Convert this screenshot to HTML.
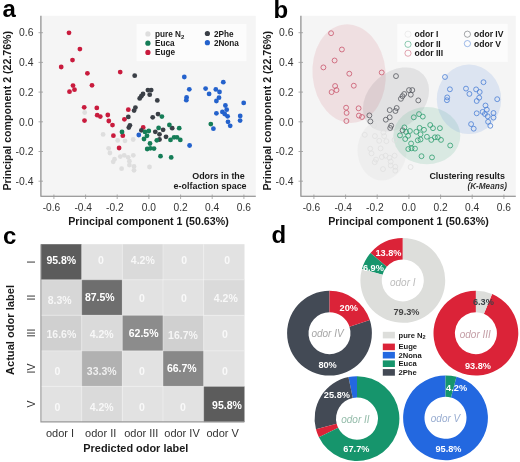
<!DOCTYPE html>
<html><head><meta charset="utf-8"><title>Figure</title>
<style>html,body{margin:0;padding:0;background:#fff;}svg{display:block;}</style>
</head><body>
<svg width="520" height="462" viewBox="0 0 520 462" font-family='"Liberation Sans", "DejaVu Sans", sans-serif'>
<rect width="520" height="462" fill="#ffffff"/>
<rect x="41" y="15.8" width="214.8" height="180.7" fill="#f5f5f5"/>
<circle cx="84.7" cy="112.5" r="2.4" fill="#dedede"/>
<circle cx="103.1" cy="134.4" r="2.4" fill="#dedede"/>
<circle cx="117.7" cy="140.4" r="2.4" fill="#dedede"/>
<circle cx="125.0" cy="140.8" r="2.4" fill="#dedede"/>
<circle cx="133.2" cy="139.5" r="2.4" fill="#dedede"/>
<circle cx="108.6" cy="148.3" r="2.4" fill="#dedede"/>
<circle cx="109.9" cy="153.0" r="2.4" fill="#dedede"/>
<circle cx="114.5" cy="159.2" r="2.4" fill="#dedede"/>
<circle cx="113.2" cy="161.8" r="2.4" fill="#dedede"/>
<circle cx="120.3" cy="156.6" r="2.4" fill="#dedede"/>
<circle cx="124.2" cy="155.3" r="2.4" fill="#dedede"/>
<circle cx="128.1" cy="157.3" r="2.4" fill="#dedede"/>
<circle cx="133.3" cy="155.3" r="2.4" fill="#dedede"/>
<circle cx="129.4" cy="161.2" r="2.4" fill="#dedede"/>
<circle cx="129.4" cy="165.1" r="2.4" fill="#dedede"/>
<circle cx="121.6" cy="168.7" r="2.4" fill="#dedede"/>
<circle cx="134.0" cy="166.4" r="2.4" fill="#dedede"/>
<circle cx="134.0" cy="170.3" r="2.4" fill="#dedede"/>
<circle cx="149.5" cy="167.0" r="2.4" fill="#dedede"/>
<circle cx="69.0" cy="32.8" r="2.4" fill="#c91b3d"/>
<circle cx="79.9" cy="49.1" r="2.4" fill="#c91b3d"/>
<circle cx="72.5" cy="60.1" r="2.4" fill="#c91b3d"/>
<circle cx="61.2" cy="67.0" r="2.4" fill="#c91b3d"/>
<circle cx="87.4" cy="73.3" r="2.4" fill="#c91b3d"/>
<circle cx="120.2" cy="72.1" r="2.4" fill="#c91b3d"/>
<circle cx="73.0" cy="85.6" r="2.4" fill="#c91b3d"/>
<circle cx="92.0" cy="85.3" r="2.4" fill="#c91b3d"/>
<circle cx="74.5" cy="89.7" r="2.4" fill="#c91b3d"/>
<circle cx="69.5" cy="91.7" r="2.4" fill="#c91b3d"/>
<circle cx="84.2" cy="107.3" r="2.4" fill="#c91b3d"/>
<circle cx="96.8" cy="107.9" r="2.4" fill="#c91b3d"/>
<circle cx="97.2" cy="115.2" r="2.4" fill="#c91b3d"/>
<circle cx="100.3" cy="116.6" r="2.4" fill="#c91b3d"/>
<circle cx="107.8" cy="115.0" r="2.4" fill="#c91b3d"/>
<circle cx="84.5" cy="120.6" r="2.4" fill="#c91b3d"/>
<circle cx="108.8" cy="121.0" r="2.4" fill="#c91b3d"/>
<circle cx="112.5" cy="125.1" r="2.4" fill="#c91b3d"/>
<circle cx="128.3" cy="109.7" r="2.4" fill="#c91b3d"/>
<circle cx="124.4" cy="119.3" r="2.4" fill="#c91b3d"/>
<circle cx="143.2" cy="127.4" r="2.4" fill="#c91b3d"/>
<circle cx="122.8" cy="135.7" r="2.4" fill="#c91b3d"/>
<circle cx="113.4" cy="135.7" r="2.4" fill="#c91b3d"/>
<circle cx="119.1" cy="148.0" r="2.4" fill="#c91b3d"/>
<circle cx="134.7" cy="75.7" r="2.4" fill="#3a3f46"/>
<circle cx="147.9" cy="90.1" r="2.4" fill="#3a3f46"/>
<circle cx="151.2" cy="90.1" r="2.4" fill="#3a3f46"/>
<circle cx="149.7" cy="94.7" r="2.4" fill="#3a3f46"/>
<circle cx="143.0" cy="94.0" r="2.4" fill="#3a3f46"/>
<circle cx="141.3" cy="96.2" r="2.4" fill="#3a3f46"/>
<circle cx="139.7" cy="98.4" r="2.4" fill="#3a3f46"/>
<circle cx="157.3" cy="100.4" r="2.4" fill="#3a3f46"/>
<circle cx="135.4" cy="107.6" r="2.4" fill="#3a3f46"/>
<circle cx="134.1" cy="110.6" r="2.4" fill="#3a3f46"/>
<circle cx="128.3" cy="116.9" r="2.4" fill="#3a3f46"/>
<circle cx="152.7" cy="117.3" r="2.4" fill="#3a3f46"/>
<circle cx="158.0" cy="114.1" r="2.4" fill="#3a3f46"/>
<circle cx="129.9" cy="125.3" r="2.4" fill="#3a3f46"/>
<circle cx="128.8" cy="127.6" r="2.4" fill="#3a3f46"/>
<circle cx="141.4" cy="130.3" r="2.4" fill="#3a3f46"/>
<circle cx="172.2" cy="128.2" r="2.4" fill="#3a3f46"/>
<circle cx="163.1" cy="129.8" r="2.4" fill="#3a3f46"/>
<circle cx="155.3" cy="131.8" r="2.4" fill="#3a3f46"/>
<circle cx="159.5" cy="134.3" r="2.4" fill="#3a3f46"/>
<circle cx="166.0" cy="136.8" r="2.4" fill="#3a3f46"/>
<circle cx="159.5" cy="139.5" r="2.4" fill="#3a3f46"/>
<circle cx="161.9" cy="116.6" r="2.4" fill="#157d57"/>
<circle cx="169.4" cy="125.0" r="2.4" fill="#157d57"/>
<circle cx="158.6" cy="127.9" r="2.4" fill="#157d57"/>
<circle cx="179.2" cy="128.2" r="2.4" fill="#157d57"/>
<circle cx="122.0" cy="132.0" r="2.4" fill="#157d57"/>
<circle cx="145.0" cy="131.9" r="2.4" fill="#157d57"/>
<circle cx="148.8" cy="131.0" r="2.4" fill="#157d57"/>
<circle cx="147.0" cy="135.8" r="2.4" fill="#157d57"/>
<circle cx="144.0" cy="139.0" r="2.4" fill="#157d57"/>
<circle cx="170.5" cy="139.9" r="2.4" fill="#157d57"/>
<circle cx="174.1" cy="137.3" r="2.4" fill="#157d57"/>
<circle cx="177.0" cy="137.3" r="2.4" fill="#157d57"/>
<circle cx="180.3" cy="139.9" r="2.4" fill="#157d57"/>
<circle cx="156.8" cy="140.3" r="2.4" fill="#157d57"/>
<circle cx="150.0" cy="143.5" r="2.4" fill="#157d57"/>
<circle cx="147.2" cy="149.0" r="2.4" fill="#157d57"/>
<circle cx="150.4" cy="148.3" r="2.4" fill="#157d57"/>
<circle cx="154.0" cy="148.6" r="2.4" fill="#157d57"/>
<circle cx="160.5" cy="156.2" r="2.4" fill="#157d57"/>
<circle cx="171.2" cy="157.4" r="2.4" fill="#157d57"/>
<circle cx="210.8" cy="124.1" r="2.4" fill="#157d57"/>
<circle cx="184.3" cy="77.0" r="2.4" fill="#2462cc"/>
<circle cx="189.3" cy="89.3" r="2.4" fill="#2462cc"/>
<circle cx="186.6" cy="97.4" r="2.4" fill="#2462cc"/>
<circle cx="186.3" cy="100.2" r="2.4" fill="#2462cc"/>
<circle cx="223.3" cy="82.2" r="2.4" fill="#2462cc"/>
<circle cx="205.6" cy="88.6" r="2.4" fill="#2462cc"/>
<circle cx="209.1" cy="93.9" r="2.4" fill="#2462cc"/>
<circle cx="215.8" cy="89.4" r="2.4" fill="#2462cc"/>
<circle cx="219.5" cy="92.0" r="2.4" fill="#2462cc"/>
<circle cx="219.0" cy="97.7" r="2.4" fill="#2462cc"/>
<circle cx="216.4" cy="101.0" r="2.4" fill="#2462cc"/>
<circle cx="243.7" cy="102.9" r="2.4" fill="#2462cc"/>
<circle cx="225.4" cy="105.5" r="2.4" fill="#2462cc"/>
<circle cx="226.7" cy="109.7" r="2.4" fill="#2462cc"/>
<circle cx="216.4" cy="113.3" r="2.4" fill="#2462cc"/>
<circle cx="222.4" cy="111.9" r="2.4" fill="#2462cc"/>
<circle cx="224.7" cy="114.0" r="2.4" fill="#2462cc"/>
<circle cx="227.6" cy="116.3" r="2.4" fill="#2462cc"/>
<circle cx="240.2" cy="115.9" r="2.4" fill="#2462cc"/>
<circle cx="240.1" cy="120.6" r="2.4" fill="#2462cc"/>
<circle cx="228.0" cy="121.8" r="2.4" fill="#2462cc"/>
<circle cx="230.2" cy="125.8" r="2.4" fill="#2462cc"/>
<circle cx="213.4" cy="128.7" r="2.4" fill="#2462cc"/>
<circle cx="189.6" cy="145.5" r="2.4" fill="#2462cc"/>
<circle cx="138.8" cy="135.0" r="2.4" fill="#2462cc"/>
<rect x="136.5" y="24" width="110" height="37.2" fill="#fdfdfd" opacity="0.9"/>
<circle cx="147.9" cy="33.9" r="2.6" fill="#dedede"/>
<text x="155.0" y="36.9" font-size="8.2" font-weight="bold" font-style="normal" fill="#1a1a1a" text-anchor="start" >pure N<tspan font-size="6" dy="2">2</tspan></text>
<circle cx="147.9" cy="43.2" r="2.6" fill="#157d57"/>
<text x="155.0" y="46.2" font-size="8.2" font-weight="bold" font-style="normal" fill="#1a1a1a" text-anchor="start" >Euca</text>
<circle cx="147.9" cy="52.4" r="2.6" fill="#c91b3d"/>
<text x="155.0" y="55.4" font-size="8.2" font-weight="bold" font-style="normal" fill="#1a1a1a" text-anchor="start" >Euge</text>
<circle cx="207.4" cy="33.5" r="2.6" fill="#3a3f46"/>
<text x="213.9" y="36.5" font-size="8.2" font-weight="bold" font-style="normal" fill="#1a1a1a" text-anchor="start" >2Phe</text>
<circle cx="207.4" cy="42.7" r="2.6" fill="#2462cc"/>
<text x="213.9" y="45.7" font-size="8.2" font-weight="bold" font-style="normal" fill="#1a1a1a" text-anchor="start" >2Nona</text>
<text x="244.8" y="179.2" font-size="9.1" font-weight="bold" font-style="normal" fill="#1a1a1a" text-anchor="end" textLength="52.6" lengthAdjust="spacingAndGlyphs">Odors in the</text>
<text x="246.6" y="189.2" font-size="9.1" font-weight="bold" font-style="normal" fill="#1a1a1a" text-anchor="end" textLength="73" lengthAdjust="spacingAndGlyphs">e-olfaction space</text>
<path d="M40.9,15.8 V196.3 H255.8" fill="none" stroke="#808080" stroke-width="1.1"/>
<line x1="53.9" y1="194.5" x2="53.9" y2="199.0" stroke="#9a9a9a" stroke-width="0.8"/>
<text x="51.5" y="210.7" font-size="10.2" font-weight="normal" font-style="normal" fill="#333" text-anchor="middle" >-0.6</text>
<line x1="85.6" y1="194.5" x2="85.6" y2="199.0" stroke="#9a9a9a" stroke-width="0.8"/>
<text x="83.2" y="210.7" font-size="10.2" font-weight="normal" font-style="normal" fill="#333" text-anchor="middle" >-0.4</text>
<line x1="117.2" y1="194.5" x2="117.2" y2="199.0" stroke="#9a9a9a" stroke-width="0.8"/>
<text x="114.8" y="210.7" font-size="10.2" font-weight="normal" font-style="normal" fill="#333" text-anchor="middle" >-0.2</text>
<line x1="148.9" y1="194.5" x2="148.9" y2="199.0" stroke="#9a9a9a" stroke-width="0.8"/>
<text x="148.9" y="210.7" font-size="10.2" font-weight="normal" font-style="normal" fill="#333" text-anchor="middle" >0.0</text>
<line x1="180.6" y1="194.5" x2="180.6" y2="199.0" stroke="#9a9a9a" stroke-width="0.8"/>
<text x="180.6" y="210.7" font-size="10.2" font-weight="normal" font-style="normal" fill="#333" text-anchor="middle" >0.2</text>
<line x1="212.2" y1="194.5" x2="212.2" y2="199.0" stroke="#9a9a9a" stroke-width="0.8"/>
<text x="212.2" y="210.7" font-size="10.2" font-weight="normal" font-style="normal" fill="#333" text-anchor="middle" >0.4</text>
<line x1="243.9" y1="194.5" x2="243.9" y2="199.0" stroke="#9a9a9a" stroke-width="0.8"/>
<text x="243.9" y="210.7" font-size="10.2" font-weight="normal" font-style="normal" fill="#333" text-anchor="middle" >0.6</text>
<line x1="38.5" y1="32.7" x2="43" y2="32.7" stroke="#9a9a9a" stroke-width="0.8"/>
<text x="33.5" y="36.4" font-size="10.4" font-weight="normal" font-style="normal" fill="#333" text-anchor="end" >0.6</text>
<line x1="38.5" y1="62.4" x2="43" y2="62.4" stroke="#9a9a9a" stroke-width="0.8"/>
<text x="33.5" y="66.1" font-size="10.4" font-weight="normal" font-style="normal" fill="#333" text-anchor="end" >0.4</text>
<line x1="38.5" y1="92.1" x2="43" y2="92.1" stroke="#9a9a9a" stroke-width="0.8"/>
<text x="33.5" y="95.8" font-size="10.4" font-weight="normal" font-style="normal" fill="#333" text-anchor="end" >0.2</text>
<line x1="38.5" y1="121.8" x2="43" y2="121.8" stroke="#9a9a9a" stroke-width="0.8"/>
<text x="33.5" y="125.5" font-size="10.4" font-weight="normal" font-style="normal" fill="#333" text-anchor="end" >0.0</text>
<line x1="38.5" y1="151.5" x2="43" y2="151.5" stroke="#9a9a9a" stroke-width="0.8"/>
<text x="33.5" y="155.2" font-size="10.4" font-weight="normal" font-style="normal" fill="#333" text-anchor="end" >-0.2</text>
<line x1="38.5" y1="181.2" x2="43" y2="181.2" stroke="#9a9a9a" stroke-width="0.8"/>
<text x="33.5" y="184.9" font-size="10.4" font-weight="normal" font-style="normal" fill="#333" text-anchor="end" >-0.4</text>
<text x="148.5" y="225" font-size="10.2" font-weight="bold" font-style="normal" fill="#1a1a1a" text-anchor="middle" textLength="160.5" lengthAdjust="spacingAndGlyphs">Principal component 1 (50.63%)</text>
<text transform="translate(11.3,110.7) rotate(-90)" font-size="10.2" font-weight="bold" fill="#1a1a1a" text-anchor="middle" textLength="159.5" lengthAdjust="spacingAndGlyphs">Principal component 2 (22.76%)</text>
<text x="2.5" y="16.5" font-size="24" font-weight="bold" font-style="normal" fill="#000" text-anchor="start" >a</text>
<rect x="301" y="15.8" width="214.8" height="180.7" fill="#f5f5f5"/>
<ellipse cx="349.1" cy="73.6" rx="36.6" ry="49.4" fill="rgba(218,125,140,0.18)" transform="rotate(-5 349.1 73.6)"/>
<ellipse cx="396.0" cy="99.5" rx="37" ry="27.5" fill="rgba(90,90,95,0.12)" transform="rotate(-42 396.0 99.5)"/>
<ellipse cx="382.0" cy="150.5" rx="24.5" ry="30" fill="rgba(228,228,228,0.42)" transform="rotate(0 382.0 150.5)"/>
<ellipse cx="426.8" cy="135.7" rx="33.5" ry="28.6" fill="rgba(120,190,160,0.22)" transform="rotate(0 426.8 135.7)"/>
<ellipse cx="469.0" cy="99.3" rx="32.2" ry="34.8" fill="rgba(120,160,225,0.20)" transform="rotate(0 469.0 99.3)"/>
<circle cx="374.1" cy="125.5" r="2.45" fill="none" stroke="#dfdfdf" stroke-width="0.8"/>
<circle cx="384.2" cy="136.1" r="2.45" fill="none" stroke="#dfdfdf" stroke-width="0.8"/>
<circle cx="374.9" cy="136.1" r="2.45" fill="none" stroke="#dfdfdf" stroke-width="0.8"/>
<circle cx="380.6" cy="148.4" r="2.45" fill="none" stroke="#dfdfdf" stroke-width="0.8"/>
<circle cx="383.4" cy="132.4" r="2.45" fill="none" stroke="#dfdfdf" stroke-width="0.8"/>
<circle cx="364.8" cy="134.8" r="2.45" fill="none" stroke="#dfdfdf" stroke-width="0.8"/>
<circle cx="379.2" cy="140.8" r="2.45" fill="none" stroke="#dfdfdf" stroke-width="0.8"/>
<circle cx="386.4" cy="141.2" r="2.45" fill="none" stroke="#dfdfdf" stroke-width="0.8"/>
<circle cx="394.5" cy="139.9" r="2.45" fill="none" stroke="#dfdfdf" stroke-width="0.8"/>
<circle cx="370.2" cy="148.7" r="2.45" fill="none" stroke="#dfdfdf" stroke-width="0.8"/>
<circle cx="371.5" cy="153.4" r="2.45" fill="none" stroke="#dfdfdf" stroke-width="0.8"/>
<circle cx="376.0" cy="159.6" r="2.45" fill="none" stroke="#dfdfdf" stroke-width="0.8"/>
<circle cx="374.7" cy="162.2" r="2.45" fill="none" stroke="#dfdfdf" stroke-width="0.8"/>
<circle cx="381.8" cy="157.0" r="2.45" fill="none" stroke="#dfdfdf" stroke-width="0.8"/>
<circle cx="385.6" cy="155.7" r="2.45" fill="none" stroke="#dfdfdf" stroke-width="0.8"/>
<circle cx="389.5" cy="157.7" r="2.45" fill="none" stroke="#dfdfdf" stroke-width="0.8"/>
<circle cx="394.6" cy="155.7" r="2.45" fill="none" stroke="#dfdfdf" stroke-width="0.8"/>
<circle cx="390.7" cy="161.6" r="2.45" fill="none" stroke="#dfdfdf" stroke-width="0.8"/>
<circle cx="390.7" cy="165.5" r="2.45" fill="none" stroke="#dfdfdf" stroke-width="0.8"/>
<circle cx="383.0" cy="169.1" r="2.45" fill="none" stroke="#dfdfdf" stroke-width="0.8"/>
<circle cx="395.3" cy="166.8" r="2.45" fill="none" stroke="#dfdfdf" stroke-width="0.8"/>
<circle cx="395.3" cy="170.7" r="2.45" fill="none" stroke="#dfdfdf" stroke-width="0.8"/>
<circle cx="410.6" cy="167.0" r="2.45" fill="none" stroke="#dfdfdf" stroke-width="0.8"/>
<circle cx="331.1" cy="33.2" r="2.45" fill="none" stroke="#c9566c" stroke-width="0.8"/>
<circle cx="341.9" cy="49.5" r="2.45" fill="none" stroke="#c9566c" stroke-width="0.8"/>
<circle cx="334.6" cy="60.5" r="2.45" fill="none" stroke="#c9566c" stroke-width="0.8"/>
<circle cx="323.4" cy="67.4" r="2.45" fill="none" stroke="#c9566c" stroke-width="0.8"/>
<circle cx="349.3" cy="73.7" r="2.45" fill="none" stroke="#c9566c" stroke-width="0.8"/>
<circle cx="381.7" cy="72.5" r="2.45" fill="none" stroke="#c9566c" stroke-width="0.8"/>
<circle cx="335.1" cy="86.0" r="2.45" fill="none" stroke="#c9566c" stroke-width="0.8"/>
<circle cx="353.8" cy="85.7" r="2.45" fill="none" stroke="#c9566c" stroke-width="0.8"/>
<circle cx="336.5" cy="90.1" r="2.45" fill="none" stroke="#c9566c" stroke-width="0.8"/>
<circle cx="331.6" cy="92.1" r="2.45" fill="none" stroke="#c9566c" stroke-width="0.8"/>
<circle cx="346.1" cy="107.7" r="2.45" fill="none" stroke="#c9566c" stroke-width="0.8"/>
<circle cx="358.6" cy="108.3" r="2.45" fill="none" stroke="#c9566c" stroke-width="0.8"/>
<circle cx="358.9" cy="115.6" r="2.45" fill="none" stroke="#c9566c" stroke-width="0.8"/>
<circle cx="362.0" cy="117.0" r="2.45" fill="none" stroke="#c9566c" stroke-width="0.8"/>
<circle cx="346.4" cy="121.0" r="2.45" fill="none" stroke="#c9566c" stroke-width="0.8"/>
<circle cx="346.6" cy="112.9" r="2.45" fill="none" stroke="#c9566c" stroke-width="0.8"/>
<circle cx="369.4" cy="115.4" r="2.45" fill="none" stroke="#55585e" stroke-width="0.8"/>
<circle cx="370.4" cy="121.4" r="2.45" fill="none" stroke="#55585e" stroke-width="0.8"/>
<circle cx="389.7" cy="110.1" r="2.45" fill="none" stroke="#55585e" stroke-width="0.8"/>
<circle cx="385.8" cy="119.7" r="2.45" fill="none" stroke="#55585e" stroke-width="0.8"/>
<circle cx="396.0" cy="76.1" r="2.45" fill="none" stroke="#55585e" stroke-width="0.8"/>
<circle cx="409.0" cy="90.1" r="2.45" fill="none" stroke="#55585e" stroke-width="0.8"/>
<circle cx="412.3" cy="90.1" r="2.45" fill="none" stroke="#55585e" stroke-width="0.8"/>
<circle cx="410.8" cy="94.7" r="2.45" fill="none" stroke="#55585e" stroke-width="0.8"/>
<circle cx="404.2" cy="94.0" r="2.45" fill="none" stroke="#55585e" stroke-width="0.8"/>
<circle cx="402.5" cy="96.2" r="2.45" fill="none" stroke="#55585e" stroke-width="0.8"/>
<circle cx="400.9" cy="98.8" r="2.45" fill="none" stroke="#55585e" stroke-width="0.8"/>
<circle cx="418.3" cy="100.4" r="2.45" fill="none" stroke="#55585e" stroke-width="0.8"/>
<circle cx="396.7" cy="108.0" r="2.45" fill="none" stroke="#55585e" stroke-width="0.8"/>
<circle cx="395.4" cy="111.0" r="2.45" fill="none" stroke="#55585e" stroke-width="0.8"/>
<circle cx="389.7" cy="117.3" r="2.45" fill="none" stroke="#55585e" stroke-width="0.8"/>
<circle cx="391.2" cy="125.7" r="2.45" fill="none" stroke="#55585e" stroke-width="0.8"/>
<circle cx="390.2" cy="128.0" r="2.45" fill="none" stroke="#55585e" stroke-width="0.8"/>
<circle cx="402.6" cy="130.3" r="2.45" fill="none" stroke="#55585e" stroke-width="0.8"/>
<circle cx="404.4" cy="127.4" r="2.45" fill="none" stroke="#2e9e70" stroke-width="0.8"/>
<circle cx="413.8" cy="117.3" r="2.45" fill="none" stroke="#2e9e70" stroke-width="0.8"/>
<circle cx="419.0" cy="114.1" r="2.45" fill="none" stroke="#2e9e70" stroke-width="0.8"/>
<circle cx="433.0" cy="128.2" r="2.45" fill="none" stroke="#2e9e70" stroke-width="0.8"/>
<circle cx="424.0" cy="129.8" r="2.45" fill="none" stroke="#2e9e70" stroke-width="0.8"/>
<circle cx="416.3" cy="131.8" r="2.45" fill="none" stroke="#2e9e70" stroke-width="0.8"/>
<circle cx="420.5" cy="134.3" r="2.45" fill="none" stroke="#2e9e70" stroke-width="0.8"/>
<circle cx="426.9" cy="136.8" r="2.45" fill="none" stroke="#2e9e70" stroke-width="0.8"/>
<circle cx="420.5" cy="139.5" r="2.45" fill="none" stroke="#2e9e70" stroke-width="0.8"/>
<circle cx="422.8" cy="116.6" r="2.45" fill="none" stroke="#2e9e70" stroke-width="0.8"/>
<circle cx="430.2" cy="125.0" r="2.45" fill="none" stroke="#2e9e70" stroke-width="0.8"/>
<circle cx="419.6" cy="127.9" r="2.45" fill="none" stroke="#2e9e70" stroke-width="0.8"/>
<circle cx="439.9" cy="128.2" r="2.45" fill="none" stroke="#2e9e70" stroke-width="0.8"/>
<circle cx="406.1" cy="131.9" r="2.45" fill="none" stroke="#2e9e70" stroke-width="0.8"/>
<circle cx="409.9" cy="131.0" r="2.45" fill="none" stroke="#2e9e70" stroke-width="0.8"/>
<circle cx="408.1" cy="135.8" r="2.45" fill="none" stroke="#2e9e70" stroke-width="0.8"/>
<circle cx="405.2" cy="139.0" r="2.45" fill="none" stroke="#2e9e70" stroke-width="0.8"/>
<circle cx="431.3" cy="139.9" r="2.45" fill="none" stroke="#2e9e70" stroke-width="0.8"/>
<circle cx="434.9" cy="137.3" r="2.45" fill="none" stroke="#2e9e70" stroke-width="0.8"/>
<circle cx="437.8" cy="137.3" r="2.45" fill="none" stroke="#2e9e70" stroke-width="0.8"/>
<circle cx="441.0" cy="139.9" r="2.45" fill="none" stroke="#2e9e70" stroke-width="0.8"/>
<circle cx="417.8" cy="140.3" r="2.45" fill="none" stroke="#2e9e70" stroke-width="0.8"/>
<circle cx="411.1" cy="143.5" r="2.45" fill="none" stroke="#2e9e70" stroke-width="0.8"/>
<circle cx="408.3" cy="149.0" r="2.45" fill="none" stroke="#2e9e70" stroke-width="0.8"/>
<circle cx="411.5" cy="148.3" r="2.45" fill="none" stroke="#2e9e70" stroke-width="0.8"/>
<circle cx="415.0" cy="148.6" r="2.45" fill="none" stroke="#2e9e70" stroke-width="0.8"/>
<circle cx="421.5" cy="156.2" r="2.45" fill="none" stroke="#2e9e70" stroke-width="0.8"/>
<circle cx="432.0" cy="157.4" r="2.45" fill="none" stroke="#2e9e70" stroke-width="0.8"/>
<circle cx="450.2" cy="145.5" r="2.45" fill="none" stroke="#2e9e70" stroke-width="0.8"/>
<circle cx="400.0" cy="135.4" r="2.45" fill="none" stroke="#2e9e70" stroke-width="0.8"/>
<circle cx="471.1" cy="124.1" r="2.45" fill="none" stroke="#4a7fd6" stroke-width="0.8"/>
<circle cx="445.0" cy="77.0" r="2.45" fill="none" stroke="#4a7fd6" stroke-width="0.8"/>
<circle cx="449.9" cy="89.3" r="2.45" fill="none" stroke="#4a7fd6" stroke-width="0.8"/>
<circle cx="447.2" cy="97.4" r="2.45" fill="none" stroke="#4a7fd6" stroke-width="0.8"/>
<circle cx="446.9" cy="100.2" r="2.45" fill="none" stroke="#4a7fd6" stroke-width="0.8"/>
<circle cx="483.5" cy="82.2" r="2.45" fill="none" stroke="#4a7fd6" stroke-width="0.8"/>
<circle cx="466.0" cy="88.6" r="2.45" fill="none" stroke="#4a7fd6" stroke-width="0.8"/>
<circle cx="469.4" cy="93.9" r="2.45" fill="none" stroke="#4a7fd6" stroke-width="0.8"/>
<circle cx="476.1" cy="89.4" r="2.45" fill="none" stroke="#4a7fd6" stroke-width="0.8"/>
<circle cx="479.7" cy="92.0" r="2.45" fill="none" stroke="#4a7fd6" stroke-width="0.8"/>
<circle cx="479.2" cy="97.7" r="2.45" fill="none" stroke="#4a7fd6" stroke-width="0.8"/>
<circle cx="476.7" cy="101.0" r="2.45" fill="none" stroke="#4a7fd6" stroke-width="0.8"/>
<circle cx="497.2" cy="99.2" r="2.45" fill="none" stroke="#4a7fd6" stroke-width="0.8"/>
<circle cx="485.5" cy="105.5" r="2.45" fill="none" stroke="#4a7fd6" stroke-width="0.8"/>
<circle cx="486.8" cy="109.7" r="2.45" fill="none" stroke="#4a7fd6" stroke-width="0.8"/>
<circle cx="476.7" cy="113.3" r="2.45" fill="none" stroke="#4a7fd6" stroke-width="0.8"/>
<circle cx="482.6" cy="111.9" r="2.45" fill="none" stroke="#4a7fd6" stroke-width="0.8"/>
<circle cx="484.9" cy="114.0" r="2.45" fill="none" stroke="#4a7fd6" stroke-width="0.8"/>
<circle cx="487.7" cy="116.3" r="2.45" fill="none" stroke="#4a7fd6" stroke-width="0.8"/>
<circle cx="493.5" cy="113.0" r="2.45" fill="none" stroke="#4a7fd6" stroke-width="0.8"/>
<circle cx="493.5" cy="117.6" r="2.45" fill="none" stroke="#4a7fd6" stroke-width="0.8"/>
<circle cx="488.1" cy="121.8" r="2.45" fill="none" stroke="#4a7fd6" stroke-width="0.8"/>
<circle cx="490.3" cy="125.8" r="2.45" fill="none" stroke="#4a7fd6" stroke-width="0.8"/>
<circle cx="473.7" cy="128.7" r="2.45" fill="none" stroke="#4a7fd6" stroke-width="0.8"/>
<rect x="397.2" y="23.9" width="110.6" height="38" fill="#fdfdfd" opacity="0.9"/>
<circle cx="408" cy="34.2" r="3.1" fill="none" stroke="#dfdfdf" stroke-width="0.7" stroke-opacity="0.75"/>
<text x="414.5" y="37.2" font-size="8.6" font-weight="bold" font-style="normal" fill="#1a1a1a" text-anchor="start" >odor I</text>
<circle cx="408" cy="44.3" r="3.1" fill="none" stroke="#2e9e70" stroke-width="0.7" stroke-opacity="0.75"/>
<text x="414.5" y="47.3" font-size="8.6" font-weight="bold" font-style="normal" fill="#1a1a1a" text-anchor="start" >odor II</text>
<circle cx="408" cy="53.2" r="3.1" fill="none" stroke="#c9566c" stroke-width="0.7" stroke-opacity="0.75"/>
<text x="414.5" y="56.2" font-size="8.6" font-weight="bold" font-style="normal" fill="#1a1a1a" text-anchor="start" >odor III</text>
<circle cx="467.4" cy="34.2" r="3.1" fill="none" stroke="#55585e" stroke-width="0.7" stroke-opacity="0.75"/>
<text x="473.9" y="37.2" font-size="8.6" font-weight="bold" font-style="normal" fill="#1a1a1a" text-anchor="start" >odor IV</text>
<circle cx="467.4" cy="43.6" r="3.1" fill="none" stroke="#4a7fd6" stroke-width="0.7" stroke-opacity="0.75"/>
<text x="473.9" y="46.6" font-size="8.6" font-weight="bold" font-style="normal" fill="#1a1a1a" text-anchor="start" >odor V</text>
<text x="505" y="178.5" font-size="9.1" font-weight="bold" font-style="normal" fill="#1a1a1a" text-anchor="end" textLength="75.6" lengthAdjust="spacingAndGlyphs">Clustering results</text>
<text x="507" y="188.5" font-size="8.2" font-weight="bold" font-style="italic" fill="#333" text-anchor="end" >(K-Means)</text>
<path d="M300.9,15.8 V196.3 H515.8" fill="none" stroke="#808080" stroke-width="1.1"/>
<line x1="313.9" y1="194.5" x2="313.9" y2="199.0" stroke="#9a9a9a" stroke-width="0.8"/>
<text x="311.5" y="210.7" font-size="10.2" font-weight="normal" font-style="normal" fill="#333" text-anchor="middle" >-0.6</text>
<line x1="345.6" y1="194.5" x2="345.6" y2="199.0" stroke="#9a9a9a" stroke-width="0.8"/>
<text x="343.2" y="210.7" font-size="10.2" font-weight="normal" font-style="normal" fill="#333" text-anchor="middle" >-0.4</text>
<line x1="377.2" y1="194.5" x2="377.2" y2="199.0" stroke="#9a9a9a" stroke-width="0.8"/>
<text x="374.8" y="210.7" font-size="10.2" font-weight="normal" font-style="normal" fill="#333" text-anchor="middle" >-0.2</text>
<line x1="408.9" y1="194.5" x2="408.9" y2="199.0" stroke="#9a9a9a" stroke-width="0.8"/>
<text x="408.9" y="210.7" font-size="10.2" font-weight="normal" font-style="normal" fill="#333" text-anchor="middle" >0.0</text>
<line x1="440.6" y1="194.5" x2="440.6" y2="199.0" stroke="#9a9a9a" stroke-width="0.8"/>
<text x="440.6" y="210.7" font-size="10.2" font-weight="normal" font-style="normal" fill="#333" text-anchor="middle" >0.2</text>
<line x1="472.2" y1="194.5" x2="472.2" y2="199.0" stroke="#9a9a9a" stroke-width="0.8"/>
<text x="472.2" y="210.7" font-size="10.2" font-weight="normal" font-style="normal" fill="#333" text-anchor="middle" >0.4</text>
<line x1="503.9" y1="194.5" x2="503.9" y2="199.0" stroke="#9a9a9a" stroke-width="0.8"/>
<text x="503.9" y="210.7" font-size="10.2" font-weight="normal" font-style="normal" fill="#333" text-anchor="middle" >0.6</text>
<line x1="298.5" y1="32.7" x2="303" y2="32.7" stroke="#9a9a9a" stroke-width="0.8"/>
<text x="293.5" y="36.4" font-size="10.4" font-weight="normal" font-style="normal" fill="#333" text-anchor="end" >0.6</text>
<line x1="298.5" y1="62.4" x2="303" y2="62.4" stroke="#9a9a9a" stroke-width="0.8"/>
<text x="293.5" y="66.1" font-size="10.4" font-weight="normal" font-style="normal" fill="#333" text-anchor="end" >0.4</text>
<line x1="298.5" y1="92.1" x2="303" y2="92.1" stroke="#9a9a9a" stroke-width="0.8"/>
<text x="293.5" y="95.8" font-size="10.4" font-weight="normal" font-style="normal" fill="#333" text-anchor="end" >0.2</text>
<line x1="298.5" y1="121.8" x2="303" y2="121.8" stroke="#9a9a9a" stroke-width="0.8"/>
<text x="293.5" y="125.5" font-size="10.4" font-weight="normal" font-style="normal" fill="#333" text-anchor="end" >0.0</text>
<line x1="298.5" y1="151.5" x2="303" y2="151.5" stroke="#9a9a9a" stroke-width="0.8"/>
<text x="293.5" y="155.2" font-size="10.4" font-weight="normal" font-style="normal" fill="#333" text-anchor="end" >-0.2</text>
<line x1="298.5" y1="181.2" x2="303" y2="181.2" stroke="#9a9a9a" stroke-width="0.8"/>
<text x="293.5" y="184.9" font-size="10.4" font-weight="normal" font-style="normal" fill="#333" text-anchor="end" >-0.4</text>
<text x="408.5" y="225" font-size="10.2" font-weight="bold" font-style="normal" fill="#1a1a1a" text-anchor="middle" textLength="160.5" lengthAdjust="spacingAndGlyphs">Principal component 1 (50.63%)</text>
<text transform="translate(271.3,110.7) rotate(-90)" font-size="10.2" font-weight="bold" fill="#1a1a1a" text-anchor="middle" textLength="159.5" lengthAdjust="spacingAndGlyphs">Principal component 2 (22.76%)</text>
<text x="273.5" y="18.3" font-size="24" font-weight="bold" font-style="normal" fill="#000" text-anchor="start" >b</text>
<rect x="41.00" y="244.20" width="40.86" height="35.74" fill="rgb(92,92,92)"/>
<rect x="81.66" y="244.20" width="40.86" height="35.74" fill="rgb(226,226,226)"/>
<rect x="122.32" y="244.20" width="40.86" height="35.74" fill="rgb(218,218,218)"/>
<rect x="162.98" y="244.20" width="40.86" height="35.74" fill="rgb(226,226,226)"/>
<rect x="203.64" y="244.20" width="40.86" height="35.74" fill="rgb(226,226,226)"/>
<rect x="41.00" y="279.74" width="40.86" height="35.74" fill="rgb(215,215,215)"/>
<rect x="81.66" y="279.74" width="40.86" height="35.74" fill="rgb(110,110,110)"/>
<rect x="122.32" y="279.74" width="40.86" height="35.74" fill="rgb(226,226,226)"/>
<rect x="162.98" y="279.74" width="40.86" height="35.74" fill="rgb(226,226,226)"/>
<rect x="203.64" y="279.74" width="40.86" height="35.74" fill="rgb(218,218,218)"/>
<rect x="41.00" y="315.28" width="40.86" height="35.74" fill="rgb(208,208,208)"/>
<rect x="81.66" y="315.28" width="40.86" height="35.74" fill="rgb(218,218,218)"/>
<rect x="122.32" y="315.28" width="40.86" height="35.74" fill="rgb(140,140,140)"/>
<rect x="162.98" y="315.28" width="40.86" height="35.74" fill="rgb(208,208,208)"/>
<rect x="203.64" y="315.28" width="40.86" height="35.74" fill="rgb(226,226,226)"/>
<rect x="41.00" y="350.82" width="40.86" height="35.74" fill="rgb(226,226,226)"/>
<rect x="81.66" y="350.82" width="40.86" height="35.74" fill="rgb(177,177,177)"/>
<rect x="122.32" y="350.82" width="40.86" height="35.74" fill="rgb(226,226,226)"/>
<rect x="162.98" y="350.82" width="40.86" height="35.74" fill="rgb(136,136,136)"/>
<rect x="203.64" y="350.82" width="40.86" height="35.74" fill="rgb(226,226,226)"/>
<rect x="41.00" y="386.36" width="40.86" height="35.74" fill="rgb(226,226,226)"/>
<rect x="81.66" y="386.36" width="40.86" height="35.74" fill="rgb(218,218,218)"/>
<rect x="122.32" y="386.36" width="40.86" height="35.74" fill="rgb(226,226,226)"/>
<rect x="162.98" y="386.36" width="40.86" height="35.74" fill="rgb(226,226,226)"/>
<rect x="203.64" y="386.36" width="40.86" height="35.74" fill="rgb(92,92,92)"/>
<line x1="81.66" y1="244.2" x2="81.66" y2="421.9" stroke="#ffffff" stroke-opacity="0.35" stroke-width="1"/>
<line x1="122.32" y1="244.2" x2="122.32" y2="421.9" stroke="#ffffff" stroke-opacity="0.35" stroke-width="1"/>
<line x1="162.98" y1="244.2" x2="162.98" y2="421.9" stroke="#ffffff" stroke-opacity="0.35" stroke-width="1"/>
<line x1="203.64" y1="244.2" x2="203.64" y2="421.9" stroke="#ffffff" stroke-opacity="0.35" stroke-width="1"/>
<line x1="41" y1="279.74" x2="244.29999999999998" y2="279.74" stroke="#ffffff" stroke-opacity="0.35" stroke-width="1"/>
<line x1="41" y1="315.28" x2="244.29999999999998" y2="315.28" stroke="#ffffff" stroke-opacity="0.35" stroke-width="1"/>
<line x1="41" y1="350.82" x2="244.29999999999998" y2="350.82" stroke="#ffffff" stroke-opacity="0.35" stroke-width="1"/>
<line x1="41" y1="386.36" x2="244.29999999999998" y2="386.36" stroke="#ffffff" stroke-opacity="0.35" stroke-width="1"/>
<text x="61.3" y="263.8" font-size="10.5" font-weight="bold" font-style="normal" fill="#ffffff" text-anchor="middle" fill-opacity="1">95.8%</text>
<text x="100.8" y="263.8" font-size="10.5" font-weight="bold" font-style="normal" fill="#ffffff" text-anchor="middle" fill-opacity="0.8">0</text>
<text x="142.8" y="263.8" font-size="10.5" font-weight="bold" font-style="normal" fill="#ffffff" text-anchor="middle" fill-opacity="0.8">4.2%</text>
<text x="184.1" y="263.8" font-size="10.5" font-weight="bold" font-style="normal" fill="#ffffff" text-anchor="middle" fill-opacity="0.8">0</text>
<text x="227.2" y="263.8" font-size="10.5" font-weight="bold" font-style="normal" fill="#ffffff" text-anchor="middle" fill-opacity="0.8">0</text>
<text x="59.7" y="304.3" font-size="10.5" font-weight="bold" font-style="normal" fill="#ffffff" text-anchor="middle" fill-opacity="0.8">8.3%</text>
<text x="99.8" y="300.5" font-size="10.5" font-weight="bold" font-style="normal" fill="#ffffff" text-anchor="middle" fill-opacity="1">87.5%</text>
<text x="142.0" y="302.2" font-size="10.5" font-weight="bold" font-style="normal" fill="#ffffff" text-anchor="middle" fill-opacity="0.8">0</text>
<text x="183.9" y="302.2" font-size="10.5" font-weight="bold" font-style="normal" fill="#ffffff" text-anchor="middle" fill-opacity="0.8">0</text>
<text x="225.8" y="302.2" font-size="10.5" font-weight="bold" font-style="normal" fill="#ffffff" text-anchor="middle" fill-opacity="0.8">4.2%</text>
<text x="61.4" y="338.2" font-size="10.5" font-weight="bold" font-style="normal" fill="#ffffff" text-anchor="middle" fill-opacity="0.8">16.6%</text>
<text x="101.7" y="338.2" font-size="10.5" font-weight="bold" font-style="normal" fill="#ffffff" text-anchor="middle" fill-opacity="0.8">4.2%</text>
<text x="143.6" y="337.4" font-size="10.5" font-weight="bold" font-style="normal" fill="#ffffff" text-anchor="middle" fill-opacity="1">62.5%</text>
<text x="183.0" y="339.0" font-size="10.5" font-weight="bold" font-style="normal" fill="#ffffff" text-anchor="middle" fill-opacity="0.8">16.7%</text>
<text x="225.0" y="338.2" font-size="10.5" font-weight="bold" font-style="normal" fill="#ffffff" text-anchor="middle" fill-opacity="0.8">0</text>
<text x="57.5" y="375.3" font-size="10.5" font-weight="bold" font-style="normal" fill="#ffffff" text-anchor="middle" fill-opacity="0.8">0</text>
<text x="101.7" y="375.3" font-size="10.5" font-weight="bold" font-style="normal" fill="#ffffff" text-anchor="middle" fill-opacity="0.8">33.3%</text>
<text x="142.0" y="375.3" font-size="10.5" font-weight="bold" font-style="normal" fill="#ffffff" text-anchor="middle" fill-opacity="0.8">0</text>
<text x="181.8" y="372.4" font-size="10.5" font-weight="bold" font-style="normal" fill="#ffffff" text-anchor="middle" fill-opacity="1">66.7%</text>
<text x="225.0" y="375.3" font-size="10.5" font-weight="bold" font-style="normal" fill="#ffffff" text-anchor="middle" fill-opacity="0.8">0</text>
<text x="57.5" y="411.3" font-size="10.5" font-weight="bold" font-style="normal" fill="#ffffff" text-anchor="middle" fill-opacity="0.8">0</text>
<text x="101.7" y="411.3" font-size="10.5" font-weight="bold" font-style="normal" fill="#ffffff" text-anchor="middle" fill-opacity="0.8">4.2%</text>
<text x="142.0" y="411.3" font-size="10.5" font-weight="bold" font-style="normal" fill="#ffffff" text-anchor="middle" fill-opacity="0.8">0</text>
<text x="183.0" y="411.3" font-size="10.5" font-weight="bold" font-style="normal" fill="#ffffff" text-anchor="middle" fill-opacity="0.8">0</text>
<text x="227.0" y="408.9" font-size="10.5" font-weight="bold" font-style="normal" fill="#ffffff" text-anchor="middle" fill-opacity="1">95.8%</text>
<path d="M40.9,244.2 V421.9 H244.29999999999998" fill="none" stroke="#9a9a9a" stroke-width="1.1"/>
<text x="60.0" y="437" font-size="11" font-weight="normal" font-style="normal" fill="#333" text-anchor="middle" >odor I</text>
<text x="100.7" y="437" font-size="11" font-weight="normal" font-style="normal" fill="#333" text-anchor="middle" >odor II</text>
<text x="141.3" y="437" font-size="11" font-weight="normal" font-style="normal" fill="#333" text-anchor="middle" >odor III</text>
<text x="182.0" y="437" font-size="11" font-weight="normal" font-style="normal" fill="#333" text-anchor="middle" >odor IV</text>
<text x="222.7" y="437" font-size="11" font-weight="normal" font-style="normal" fill="#333" text-anchor="middle" >odor V</text>
<text transform="translate(34.5,262.0) rotate(-90)" font-size="10.4" fill="#333" text-anchor="middle">I</text>
<text transform="translate(34.5,297.5) rotate(-90)" font-size="10.4" fill="#333" text-anchor="middle">II</text>
<text transform="translate(34.5,333.0) rotate(-90)" font-size="10.4" fill="#333" text-anchor="middle">III</text>
<text transform="translate(34.5,368.6) rotate(-90)" font-size="10.4" fill="#333" text-anchor="middle">IV</text>
<text transform="translate(34.5,404.1) rotate(-90)" font-size="10.4" fill="#333" text-anchor="middle">V</text>
<text x="135.8" y="452" font-size="10.6" font-weight="bold" font-style="normal" fill="#1a1a1a" text-anchor="middle" textLength="105" lengthAdjust="spacingAndGlyphs">Predicted odor label</text>
<text transform="translate(13.6,330) rotate(-90)" font-size="10.6" font-weight="bold" fill="#1a1a1a" text-anchor="middle" textLength="90" lengthAdjust="spacingAndGlyphs">Actual odor label</text>
<text x="3" y="243.6" font-size="24" font-weight="bold" font-style="normal" fill="#000" text-anchor="start" >c</text>
<path d="M402.80,238.00 A42.4,42.4 0 0 0 370.48,252.95 L386.79,266.80 A21.0,21.0 0 0 1 402.80,259.40 Z" fill="#db2338"/>
<path d="M370.48,252.95 A42.4,42.4 0 0 0 361.95,269.06 L382.57,274.78 A21.0,21.0 0 0 1 386.79,266.80 Z" fill="#16956c"/>
<path d="M361.95,269.06 A42.4,42.4 0 1 0 402.80,238.00 L402.80,259.40 A21.0,21.0 0 1 1 382.57,274.78 Z" fill="#dddedb"/>
<text x="402.8" y="285.5" font-size="10" font-weight="normal" font-style="italic" fill="#bdbdbd" text-anchor="middle" >odor I</text>
<path d="M329.50,290.80 A42.4,42.4 0 1 0 369.82,320.10 L349.47,326.71 A21.0,21.0 0 1 1 329.50,312.20 Z" fill="#434a55"/>
<path d="M369.82,320.10 A42.4,42.4 0 0 0 329.50,290.80 L329.50,312.20 A21.0,21.0 0 0 1 349.47,326.71 Z" fill="#db2338"/>
<text x="327.5" y="337.1" font-size="10" font-weight="normal" font-style="italic" fill="#a6a6a6" text-anchor="middle" >odor IV</text>
<path d="M475.90,290.80 A42.4,42.4 0 1 0 492.13,294.03 L483.94,313.80 A21.0,21.0 0 1 1 475.90,312.20 Z" fill="#db2338"/>
<path d="M492.13,294.03 A42.4,42.4 0 0 0 475.90,290.80 L475.90,312.20 A21.0,21.0 0 0 1 483.94,313.80 Z" fill="#dddedb"/>
<text x="475.3" y="337.6" font-size="10" font-weight="normal" font-style="italic" fill="#c49ea6" text-anchor="middle" >odor III</text>
<path d="M357.00,376.20 A42.4,42.4 0 0 0 348.46,377.07 L352.77,398.03 A21.0,21.0 0 0 1 357.00,397.60 Z" fill="#2368e0"/>
<path d="M348.46,377.07 A42.4,42.4 0 0 0 315.95,429.23 L336.67,423.86 A21.0,21.0 0 0 1 352.77,398.03 Z" fill="#434a55"/>
<path d="M315.95,429.23 A42.4,42.4 0 0 0 318.93,437.27 L338.15,427.85 A21.0,21.0 0 0 1 336.67,423.86 Z" fill="#db2338"/>
<path d="M318.93,437.27 A42.4,42.4 0 1 0 357.00,376.20 L357.00,397.60 A21.0,21.0 0 1 1 338.15,427.85 Z" fill="#16956c"/>
<text x="355.4" y="422.5" font-size="10" font-weight="normal" font-style="italic" fill="#93bba9" text-anchor="middle" >odor II</text>
<path d="M445.50,375.40 A42.4,42.4 0 1 0 456.47,376.84 L450.94,397.52 A21.0,21.0 0 1 1 445.50,396.80 Z" fill="#2368e0"/>
<path d="M456.47,376.84 A42.4,42.4 0 0 0 445.50,375.40 L445.50,396.80 A21.0,21.0 0 0 1 450.94,397.52 Z" fill="#16956c"/>
<text x="445.5" y="422.4" font-size="10" font-weight="normal" font-style="italic" fill="#98acd0" text-anchor="middle" >odor V</text>
<text x="388.5" y="256" font-size="9.2" font-weight="bold" font-style="normal" fill="#fff" text-anchor="middle" >13.8%</text>
<text x="373.4" y="270.5" font-size="9.2" font-weight="bold" font-style="normal" fill="#fff" text-anchor="middle" >6.9%</text>
<text x="406.5" y="314.5" font-size="9.2" font-weight="bold" font-style="normal" fill="#444" text-anchor="middle" >79.3%</text>
<text x="348.8" y="311" font-size="9.2" font-weight="bold" font-style="normal" fill="#fff" text-anchor="middle" >20%</text>
<text x="327.6" y="368" font-size="9.2" font-weight="bold" font-style="normal" fill="#fff" text-anchor="middle" >80%</text>
<text x="483.4" y="305.2" font-size="9.2" font-weight="bold" font-style="normal" fill="#3b4046" text-anchor="middle" >6.3%</text>
<text x="478" y="368.8" font-size="9.2" font-weight="bold" font-style="normal" fill="#fff" text-anchor="middle" >93.8%</text>
<text x="336.9" y="398.2" font-size="9.2" font-weight="bold" font-style="normal" fill="#fff" text-anchor="middle" >25.8%</text>
<text x="356.4" y="452" font-size="9.2" font-weight="bold" font-style="normal" fill="#fff" text-anchor="middle" >67.7%</text>
<text x="456.6" y="390.5" font-size="9.2" font-weight="bold" font-style="normal" fill="#fff" text-anchor="middle" >4.2%</text>
<text x="448.5" y="452" font-size="9.2" font-weight="bold" font-style="normal" fill="#fff" text-anchor="middle" >95.8%</text>
<rect x="382.8" y="331.8" width="12.1" height="6.6" fill="#dddedb"/>
<text x="398.5" y="337.6" font-size="7.6" font-weight="bold" font-style="normal" fill="#1a1a1a" text-anchor="start" >pure N<tspan font-size="5.5" dy="1.8">2</tspan></text>
<rect x="382.8" y="343.6" width="12.1" height="6.6" fill="#db2338"/>
<text x="398.5" y="349.4" font-size="7.6" font-weight="bold" font-style="normal" fill="#1a1a1a" text-anchor="start" >Euge</text>
<rect x="382.8" y="351.9" width="12.1" height="6.6" fill="#2368e0"/>
<text x="398.5" y="357.7" font-size="7.6" font-weight="bold" font-style="normal" fill="#1a1a1a" text-anchor="start" >2Nona</text>
<rect x="382.8" y="360.4" width="12.1" height="6.6" fill="#16956c"/>
<text x="398.5" y="366.2" font-size="7.6" font-weight="bold" font-style="normal" fill="#1a1a1a" text-anchor="start" >Euca</text>
<rect x="382.8" y="369.1" width="12.1" height="6.6" fill="#434a55"/>
<text x="398.5" y="374.9" font-size="7.6" font-weight="bold" font-style="normal" fill="#1a1a1a" text-anchor="start" >2Phe</text>
<text x="271.5" y="243" font-size="24" font-weight="bold" font-style="normal" fill="#000" text-anchor="start" >d</text>
</svg>
</body></html>
